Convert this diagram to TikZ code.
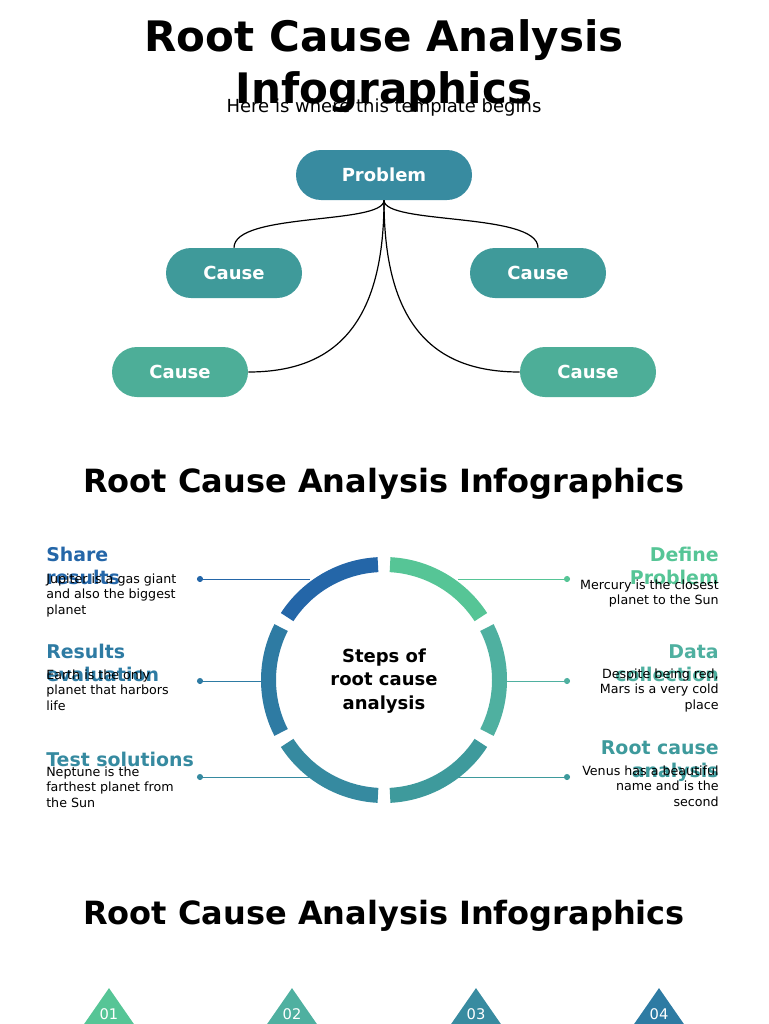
\documentclass[tikz,border=0pt]{standalone}
\usepackage{fontspec}
\setmainfont{DejaVu Sans}
\usetikzlibrary{shapes.geometric}
\hyphenpenalty=10000
\exhyphenpenalty=10000
\definecolor{cA}{HTML}{56C596}
\definecolor{cB}{HTML}{4FB0A0}
\definecolor{cC}{HTML}{3E9A9C}
\definecolor{cD}{HTML}{368AA0}
\definecolor{cE}{HTML}{2E7BA3}
\definecolor{cF}{HTML}{2466A8}
\definecolor{cP}{HTML}{388BA0}
\definecolor{cT}{HTML}{3F9A9A}
\definecolor{cL}{HTML}{4DAE98}
\tikzset{
 pill/.style={rounded corners=25*0.75pt, minimum height=50*0.75pt, text=white, font=\fontsize{13.5}{16}\selectfont\bfseries, inner sep=0pt},
 head/.style={font=\fontsize{14.2}{17.5}\selectfont\bfseries, inner sep=0pt},
 small/.style={font=\fontsize{9.5}{11.3}\selectfont, inner sep=0pt},
 conn/.style={black, line width=0.9pt},
 lead/.style={line width=0.6pt},
 dia/.style={diamond, minimum width=50*0.75pt, minimum height=72*0.75pt, inner sep=0pt},
 sect/.style={font=\fontsize{24}{28}\selectfont\bfseries},
 num/.style={text=white, font=\fontsize{11}{13}\selectfont}
}
\begin{document}
\begin{tikzpicture}[x=0.75pt,y=-0.75pt]
\useasboundingbox (0,0) rectangle (768,1024);
\node[font=\fontsize{31.5}{39}\selectfont\bfseries, align=center] (title) at (384,66) {Root Cause Analysis\\Infographics};
\node[font=\fontsize{13.5}{16}\selectfont] (sub) at (384,108) {Here is where this template begins};
\node[pill, fill=cP, minimum width=176*0.75pt] (p) at (384,175) {Problem};
\node[pill, fill=cT, minimum width=136*0.75pt] (c1) at (234,273) {Cause};
\node[pill, fill=cT, minimum width=136*0.75pt] (c2) at (538,273) {Cause};
\node[pill, fill=cL, minimum width=136*0.75pt] (c3) at (180,372) {Cause};
\node[pill, fill=cL, minimum width=136*0.75pt] (c4) at (588,372) {Cause};
\draw[conn] (p.south) .. controls (384,225) and (234,212) .. (c1.north);
\draw[conn] (p.south) .. controls (384,225) and (538,212) .. (c2.north);
\draw[conn] (p.south) .. controls (384,330) and (330,372) .. (c3.east);
\draw[conn] (p.south) .. controls (384,330) and (438,372) .. (c4.west);
\node[sect] (s2) at (384,484) {Root Cause Analysis Infographics};
% ring
\begin{scope}[shift={(384,680)}, yscale=-1]
\foreach \a/\b/\c in {87/33/cA, 27/-27/cB, -33/-87/cC, -93/-147/cD, 207/153/cE, 147/93/cF}{
  \fill[\c] (\a:123) arc[start angle=\a, end angle=\b, radius=123] -- (\b:108) arc[start angle=\b, end angle=\a, radius=108] -- cycle;
}
\end{scope}
\node[font=\fontsize{13.5}{17.5}\selectfont\bfseries, align=center] (ctr) at (384,681) {Steps of\\root cause\\analysis};
% leaders
\coordinate (dl1) at (200,579); \coordinate (rl1) at (310,579);
\coordinate (dl2) at (200,681); \coordinate (rl2) at (265,681);
\coordinate (dl3) at (200,777); \coordinate (rl3) at (310,777);
\coordinate (dr1) at (567,579); \coordinate (rr1) at (458,579);
\coordinate (dr2) at (567,681); \coordinate (rr2) at (503,681);
\coordinate (dr3) at (567,777); \coordinate (rr3) at (458,777);
\draw[lead, cF] (dl1) -- (rl1); \fill[cF] (dl1) circle (2.3pt);
\draw[lead, cE] (dl2) -- (rl2); \fill[cE] (dl2) circle (2.3pt);
\draw[lead, cD] (dl3) -- (rl3); \fill[cD] (dl3) circle (2.3pt);
\draw[lead, cA] (dr1) -- (rr1); \fill[cA] (dr1) circle (2.3pt);
\draw[lead, cB] (dr2) -- (rr2); \fill[cB] (dr2) circle (2.3pt);
\draw[lead, cC] (dr3) -- (rr3); \fill[cC] (dr3) circle (2.3pt);
% left labels
\node[head, cF, anchor=north west, align=left] (h1) at (46,547) {Share\\results};
\node[small, anchor=north west, align=left] (t1) at (46,574) {Jupiter is a gas giant\\and also the biggest\\planet};
\node[head, cE, anchor=north west, align=left] (h2) at (46,644) {Results\\evaluation};
\node[small, anchor=north west, align=left] (t2) at (46,670) {Earth is the only\\planet that harbors\\life};
\node[head, cD, anchor=north west, align=left] (h3) at (46,752) {Test solutions};
\node[small, anchor=north west, align=left] (t3) at (46,767) {Neptune is the\\farthest planet from\\the Sun};
% right labels
\node[head, cA, anchor=north east, align=right] (h4) at (719,547) {Define\\Problem};
\node[small, anchor=north east, align=right] (t4) at (719,580) {Mercury is the closest\\planet to the Sun};
\node[head, cB, anchor=north east, align=right] (h5) at (719,644) {Data\\collection};
\node[small, anchor=north east, align=right] (t5) at (719,669) {Despite being red,\\Mars is a very cold\\place};
\node[head, cC, anchor=north east, align=right] (h6) at (719,740) {Root cause\\analysis};
\node[small, anchor=north east, align=right] (t6) at (719,766) {Venus has a beautiful\\name and is the\\second};
\node[sect] (s3) at (384,916) {Root Cause Analysis Infographics};
\node[dia, fill=cA] (d1) at (109,1024) {};
\node[dia, fill=cB] (d2) at (292,1024) {};
\node[dia, fill=cP] (d3) at (476,1024) {};
\node[dia, fill=cE] (d4) at (659,1024) {};
\node[num] (n1) at (109,1014) {01};
\node[num] (n2) at (292,1014) {02};
\node[num] (n3) at (476,1014) {03};
\node[num] (n4) at (659,1014) {04};
\end{tikzpicture}
\end{document}
